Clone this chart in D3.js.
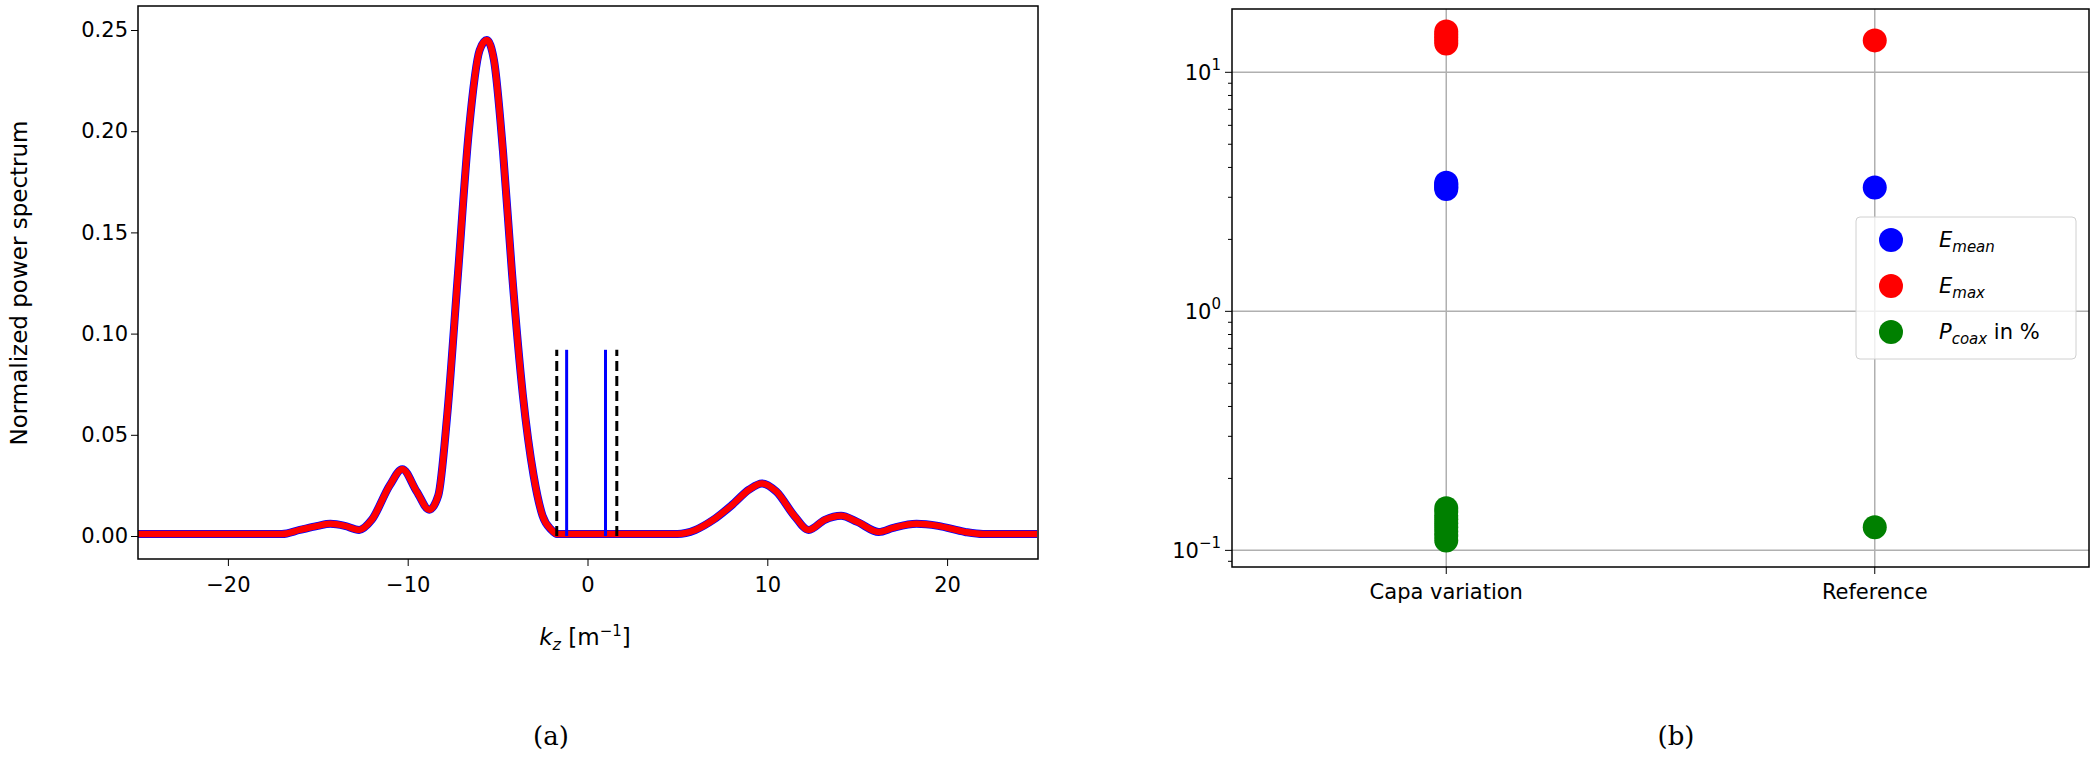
<!DOCTYPE html><html><head><meta charset="utf-8">
<script src="https://cdn.jsdelivr.net/npm/d3@7"></script>
<style>body{margin:0;background:#fff}text{font-family:"DejaVu Sans",sans-serif}text.cap{font-family:"DejaVu Serif",serif}</style></head><body>
<svg id="c" width="2100" height="763"></svg>
<script>
const kz=[-25,-20,-17,-16,-15,-14.3,-13.5,-12.7,-12,-11,-10.3,-9.5,-8.8,-8.3,-7.8,-7.2,-6.6,-6,-5.6,-5.2,-4.7,-4.2,-3.6,-3,-2.5,-2,-1.7,0,4,5,6,7,8,9,9.7,10.5,11.5,12.3,13.2,14.1,15,16.2,17,18.3,19.5,21,22,25];
const spectrum=[0.001,0.001,0.001,0.003,0.005,0.006,0.005,0.003,0.008,0.025,0.033,0.022,0.013,0.02,0.06,0.13,0.2,0.24,0.245,0.235,0.19,0.13,0.07,0.03,0.01,0.003,0.001,0.001,0.001,0.001,0.003,0.008,0.015,0.023,0.026,0.022,0.01,0.003,0.008,0.01,0.007,0.002,0.004,0.006,0.005,0.002,0.001,0.001];
const vlinesDashed=[-1.71,1.63], vlinesBlue=[-1.16,1.0], vlineTop=0.092;
const yTicksA=[0,0.05,0.10,0.15,0.20,0.25], xTicksA=[-20,-10,0,10,20];
const categories=["Capa variation","Reference"];
const Emean=[[3.25,3.3,3.35,3.4,3.45],[3.3]];
const Emax=[[13.2,13.6,14.0,14.4,14.8],[13.6]];
const Pcoax=[[0.11,0.115,0.12,0.125,0.13,0.135,0.14,0.145,0.15],[0.125]];
const svg=d3.select("#c");
const xa=d3.scaleLinear().domain([-25,25]).range([138,1037]);
const ya=d3.scaleLinear().domain([0,0.25]).range([536,30]);
const ga=svg.append("g");
ga.append("g").attr("transform","translate(0,559)").call(d3.axisBottom(xa).tickValues(xTicksA).tickFormat(d=>d<0?"\u2212"+(-d):d).tickSize(7)).call(s=>{s.select(".domain").remove();s.selectAll("text").attr("font-size",21).attr("dy","1.1em")});
ga.append("g").attr("transform","translate(138,0)").call(d3.axisLeft(ya).tickValues(yTicksA).tickFormat(d3.format(".2f")).tickSize(7)).call(s=>{s.select(".domain").remove();s.selectAll("text").attr("font-size",21)});
ga.append("clipPath").attr("id","ca").append("rect").attr("x",138).attr("y",6).attr("width",900).attr("height",553);
const line=d3.line().x((d,i)=>xa(kz[i])).y(d=>ya(d)).curve(d3.curveMonotoneX);
const gc=ga.append("g").attr("clip-path","url(#ca)");
gc.append("path").attr("d",line(spectrum)).attr("fill","none").attr("stroke","#0000ff").attr("stroke-width",8);
gc.append("path").attr("d",line(spectrum)).attr("fill","none").attr("stroke","#ff0000").attr("stroke-width",6.5);
vlinesDashed.forEach(v=>ga.append("line").attr("x1",xa(v)).attr("x2",xa(v)).attr("y1",ya(0)).attr("y2",ya(vlineTop)).attr("stroke","#000").attr("stroke-width",3).attr("stroke-dasharray","10,5"));
vlinesBlue.forEach(v=>ga.append("line").attr("x1",xa(v)).attr("x2",xa(v)).attr("y1",ya(0)).attr("y2",ya(vlineTop)).attr("stroke","#0000ff").attr("stroke-width",3));
ga.append("rect").attr("x",138).attr("y",6).attr("width",900).attr("height",553).attr("fill","none").attr("stroke","#000").attr("stroke-width",1.5);
const xl=ga.append("text").attr("x",585).attr("y",645).attr("text-anchor","middle").attr("font-size",23);
xl.append("tspan").attr("font-style","italic").text("k");
xl.append("tspan").attr("font-style","italic").attr("font-size",16).attr("dy",5).text("z");
xl.append("tspan").attr("dy",-5).text(" [m");
xl.append("tspan").attr("font-size",15).attr("dy",-9).text("\u22121");
xl.append("tspan").attr("dy",9).text("]");
ga.append("text").attr("transform","translate(27,283) rotate(-90)").attr("text-anchor","middle").attr("font-size",23).text("Normalized power spectrum");
svg.append("text").attr("class","cap").attr("x",551).attr("y",745).attr("text-anchor","middle").attr("font-size",26).text("(a)");
const L=1232,R=2089,T=9,B=567;
const xb=d3.scaleLinear().domain([-0.5,1.5]).range([L,R]);
const yb=d3.scaleLog().domain([0.0852,18.4]).range([B,T]);
const gb=svg.append("g");
[0.1,1,10].forEach(v=>gb.append("line").attr("x1",L).attr("x2",R).attr("y1",yb(v)).attr("y2",yb(v)).attr("stroke","#b0b0b0").attr("stroke-width",1.5));
categories.forEach((c,i)=>gb.append("line").attr("x1",xb(i)).attr("x2",xb(i)).attr("y1",T).attr("y2",B).attr("stroke","#b0b0b0").attr("stroke-width",1.5));
const minor=[0.09,0.2,0.3,0.4,0.5,0.6,0.7,0.8,0.9,2,3,4,5,6,7,8,9];
minor.forEach(v=>gb.append("line").attr("x1",L-4).attr("x2",L).attr("y1",yb(v)).attr("y2",yb(v)).attr("stroke","#000"));
const sup=["\u22121","0","1"];
[0.1,1,10].forEach((v,i)=>{gb.append("line").attr("x1",L-7).attr("x2",L).attr("y1",yb(v)).attr("y2",yb(v)).attr("stroke","#000");
 const t=gb.append("text").attr("x",L-11).attr("y",yb(v)+8).attr("text-anchor","end").attr("font-size",21);
 t.append("tspan").text("10");t.append("tspan").attr("font-size",15).attr("dy",-10).text(sup[i]);});
categories.forEach((c,i)=>{gb.append("line").attr("x1",xb(i)).attr("x2",xb(i)).attr("y1",B).attr("y2",B+7).attr("stroke","#000");
 gb.append("text").attr("x",xb(i)).attr("y",B+32).attr("text-anchor","middle").attr("font-size",21).text(c);});
const series=[[Emean,"#0000ff"],[Emax,"#ff0000"],[Pcoax,"#008000"]];
series.forEach(([s,col])=>s.forEach((arr,i)=>arr.forEach(v=>gb.append("circle").attr("cx",xb(i)).attr("cy",yb(v)).attr("r",12).attr("fill",col))));
gb.append("rect").attr("x",L).attr("y",T).attr("width",R-L).attr("height",B-T).attr("fill","none").attr("stroke","#000").attr("stroke-width",1.5);
gb.append("rect").attr("x",1856).attr("y",217).attr("width",220).attr("height",142).attr("rx",4).attr("fill","rgba(255,255,255,0.8)").attr("stroke","#d0d0d0");
const leg=[["E","mean","","#0000ff"],["E","max","","#ff0000"],["P","coax"," in %","#008000"]];
leg.forEach((d,i)=>{const y=240+i*46;
 gb.append("circle").attr("cx",1891).attr("cy",y).attr("r",12).attr("fill",d[3]);
 const t=gb.append("text").attr("x",1939).attr("y",y+7).attr("font-size",21);
 t.append("tspan").attr("font-style","italic").text(d[0]);
 t.append("tspan").attr("font-style","italic").attr("font-size",15).attr("dy",5).text(d[1]);
 t.append("tspan").attr("dy",-5).text(d[2]);});
svg.append("text").attr("class","cap").attr("x",1676).attr("y",745).attr("text-anchor","middle").attr("font-size",26).text("(b)");
</script></body></html>
